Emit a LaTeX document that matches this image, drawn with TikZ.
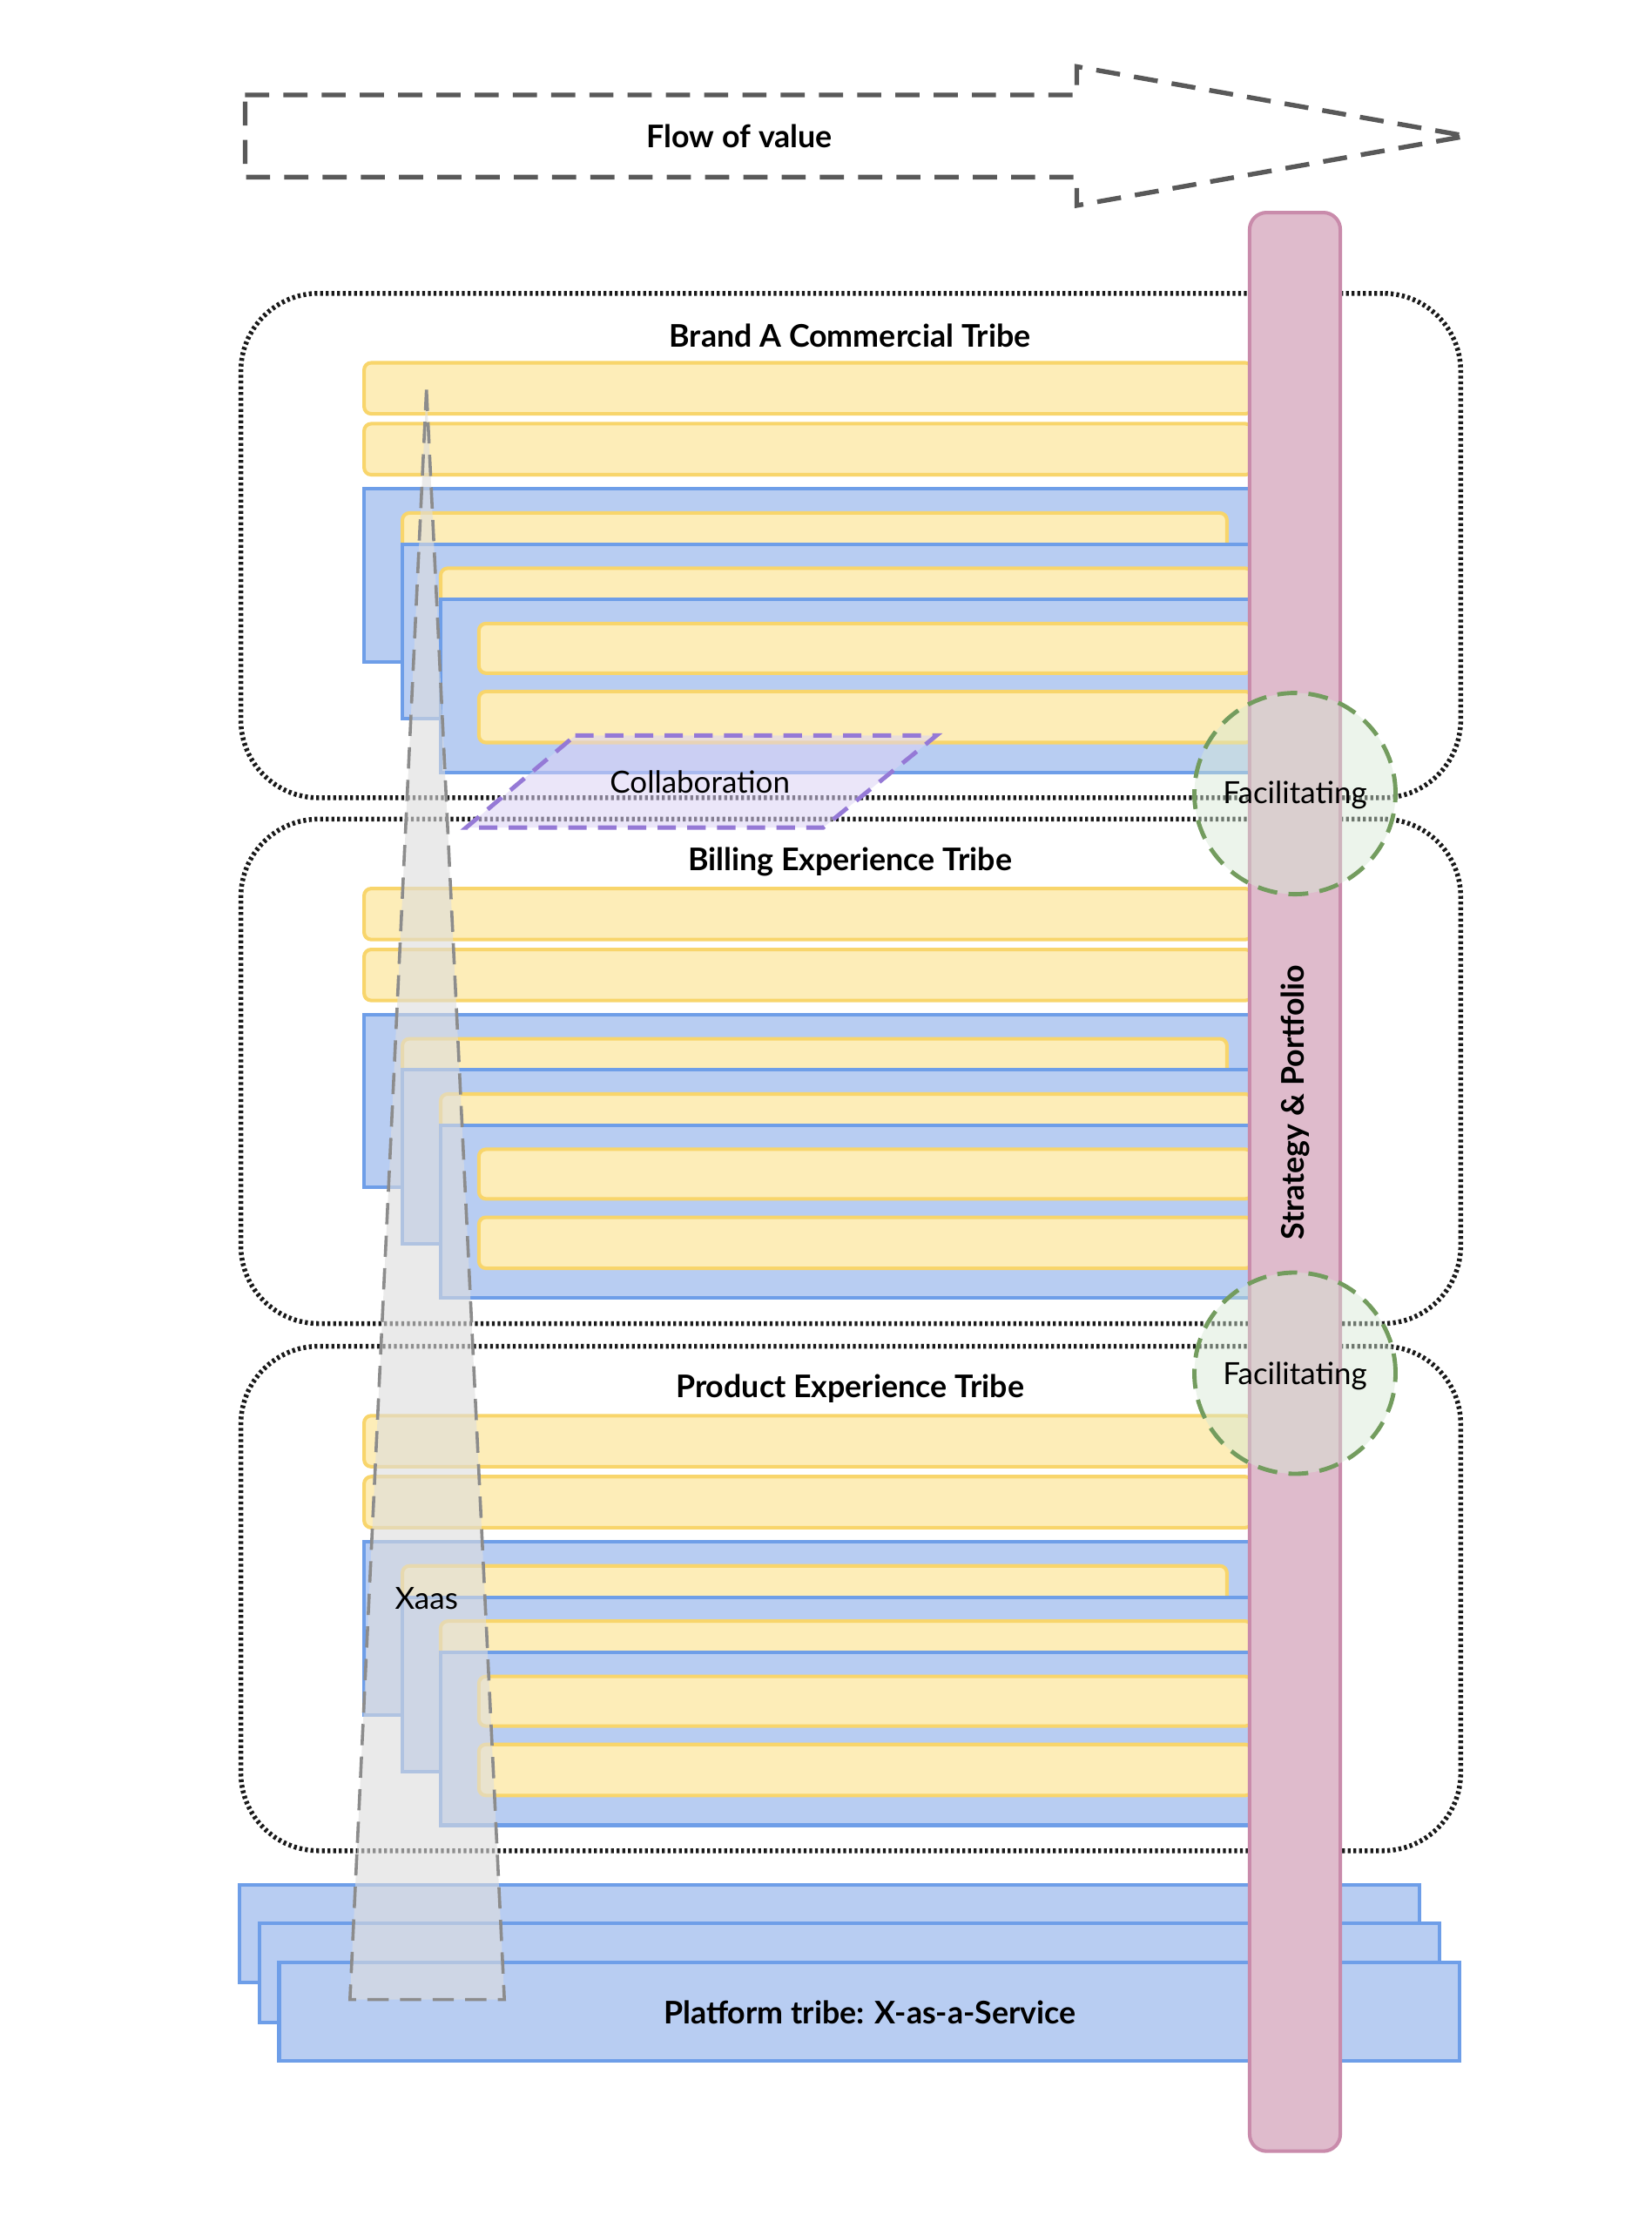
\documentclass[tikz,border=0pt]{standalone}
\usepackage{fontspec}
\setmainfont{Lato}
\definecolor{yfill}{HTML}{FDEDB8}
\definecolor{ydraw}{HTML}{F8D56B}
\definecolor{bfill}{HTML}{B8CDF2}
\definecolor{bdraw}{HTML}{6E9EE8}
\definecolor{pfill}{HTML}{DFBBCC}
\definecolor{pdraw}{HTML}{C98BAB}
\definecolor{gdraw}{HTML}{739C5E}
\definecolor{gfill}{HTML}{D5E8D4}
\definecolor{vdraw}{HTML}{9579D6}
\definecolor{vfill}{HTML}{DCD2F5}
\definecolor{adraw}{HTML}{595959}
\definecolor{tdraw}{HTML}{8C8C8C}
\definecolor{tfill}{HTML}{DDDDDD}
\newcommand\rbox[6]{%
  \pgfmathsetmacro\rbw{(#5)-(#3)}%
  \pgfmathsetmacro\rbh{(#6)-(#4)}%
  \node[#1, anchor=north west, minimum width=\rbw pt, minimum height=\rbh pt] (#2) at (#3,#4) {};}
\newcommand\tribe[3]{%
  \rbox{tribebox}{#1}{170}{207+#2}{1031}{563+#2}
  \node[title] (#1t) at (600,237+#2) {#3};
  \rbox{ybox}{#1y1}{257}{256+#2}{884}{292+#2}
  \rbox{ybox}{#1y2}{257}{299+#2}{884}{335+#2}
  \rbox{bbox}{#1b1}{257}{345+#2}{884}{467+#2}
  \rbox{ybox}{#1b1y}{284}{362+#2}{866}{398+#2}
  \rbox{bbox}{#1b2}{284}{384+#2}{884}{507+#2}
  \rbox{ybox}{#1b2y}{311}{401+#2}{884}{437+#2}
  \rbox{bbox}{#1b3}{311}{423+#2}{884}{545+#2}
  \rbox{ybox}{#1b3a}{338}{440+#2}{884}{475+#2}
  \rbox{ybox}{#1b3b}{338}{488+#2}{884}{524+#2}
}
\begin{document}
\begin{tikzpicture}[x=1pt,y=-1pt,
  ybox/.style={draw=ydraw, fill=yfill, line width=2.5pt, rounded corners=5pt, inner sep=0pt, outer sep=0pt},
  bbox/.style={draw=bdraw, fill=bfill, line width=2.5pt, inner sep=0pt, outer sep=0pt},
  tribebox/.style={draw=black!90, line width=3.4pt, dash pattern=on 2pt off 2pt, rounded corners=55pt, inner sep=0pt, outer sep=0pt},
  pbar/.style={draw=pdraw, fill=pfill, line width=2.5pt, rounded corners=12pt, inner sep=0pt, outer sep=0pt},
  flowarrow/.style={draw=adraw, line width=3.3pt, dash pattern=on 17pt off 10pt},
  collab/.style={draw=vdraw, fill=vfill, fill opacity=0.55, line width=3pt, dash pattern=on 13pt off 8pt},
  facil/.style={circle, draw=gdraw, fill=gfill, fill opacity=0.45, line width=3pt, dash pattern=on 14pt off 8pt, inner sep=0pt, minimum size=142pt},
  xaas/.style={draw=tdraw, fill=tfill, fill opacity=0.6, line width=2.2pt, dash pattern=on 15pt off 8pt},
  title/.style={font=\fontsize{22}{24}\selectfont\bfseries, inner sep=0pt},
  lbl/.style={font=\fontsize{21.5}{24}\selectfont, inner sep=0pt}]
\useasboundingbox[fill=white] (0,0) rectangle (1166,1568);
% flow of value arrow
\draw[flowarrow] (173,67) -- (760,67) -- (760,47) -- (1035,96) -- (760,145) -- (760,125) -- (173,125) -- cycle;
\node[title] (flow) at (522,96) {Flow of value};
% tribes
\tribe{ba}{0}{Brand A Commercial Tribe}
\tribe{be}{371}{Billing Experience Tribe}
\tribe{pe}{743}{Product Experience Tribe}
% platform tribe
\rbox{bbox}{pl1}{169}{1330}{1002}{1399}
\rbox{bbox}{pl2}{183}{1357}{1016}{1427}
\rbox{bbox}{pl3}{197}{1385}{1030}{1454}
\node[title] (plt) at (614,1420) {Platform tribe: X-as-a-Service};
% strategy & portfolio bar
\rbox{pbar}{sp}{882}{150}{946}{1518}
\node[title, rotate=90] (spt) at (914,778) {Strategy \& Portfolio};
% collaboration
\draw[collab] (406,519) -- (661,519) -- (581,584) -- (329,584) -- cycle;
\node[lbl] (collabt) at (494,552) {Collaboration};
% facilitating
\node[facil] (f1) at (914,560) {};
\node[lbl] (f1t) at (914,561) {Facilitating};
\node[facil] (f2) at (914,969) {};
\node[lbl] (f2t) at (914,971) {Facilitating};
% xaas
\draw[xaas] (301,275) -- (356,1411) -- (247,1411) -- cycle;
\node[lbl] (xaast) at (301,1128) {Xaas};
\end{tikzpicture}
\end{document}
